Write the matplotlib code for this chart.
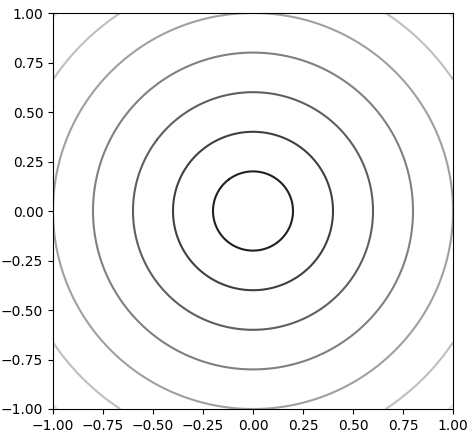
import numpy as np
import matplotlib
matplotlib.use("Agg")
import matplotlib.pyplot as plt

# radial distance field, contoured at fixed levels
x = np.linspace(-1, 1, 401)
y = np.linspace(-1, 1, 401)
levels = [0.2, 0.4, 0.6, 0.8, 1.0, 1.2, 1.4]

X, Y = np.meshgrid(x, y)
R = np.sqrt(X**2 + Y**2)

fig = plt.figure(figsize=(4.74, 4.38), dpi=100)
ax = fig.add_axes([53/474, 29/438, 400/474, 396/438])
ax.contour(X, Y, R, levels=levels, cmap="gray", vmin=0, vmax=1.6)
ax.set_xlim(-1, 1); ax.set_ylim(-1, 1)
ax.set_xticks(np.arange(-1, 1.01, 0.25)); ax.set_yticks(np.arange(-1, 1.01, 0.25))
plt.savefig("out.png", dpi=100)
